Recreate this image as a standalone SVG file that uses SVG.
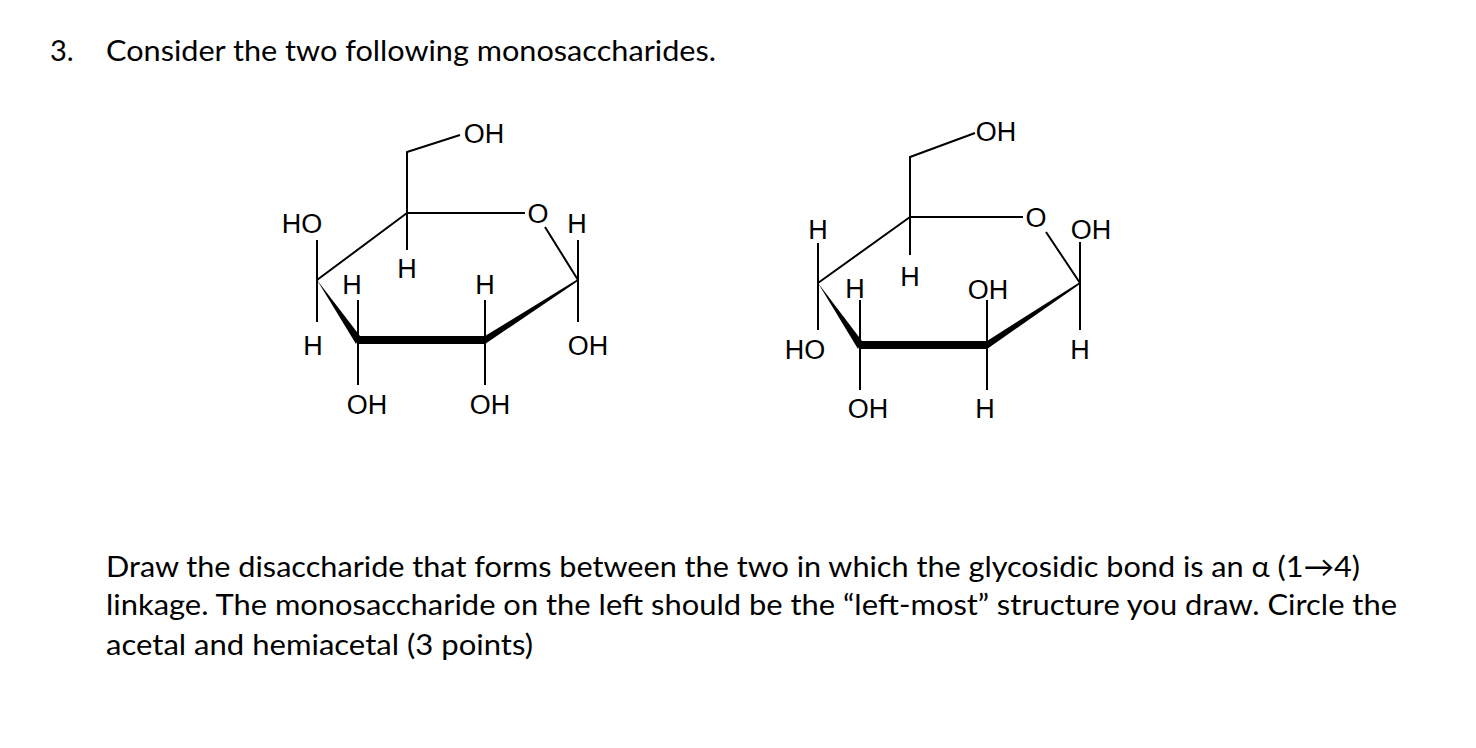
<svg xmlns="http://www.w3.org/2000/svg" width="1476" height="748" viewBox="0 0 1476 748">
<style>
.t{font-family:Lato,"Open Sans",sans-serif;font-size:29px;fill:#000}
.l{font-family:"Liberation Sans",Arial,sans-serif;font-size:27px;fill:#000;text-anchor:middle}
.b{stroke:#000;stroke-width:2;fill:none}
</style>
<rect width="1476" height="748" fill="#fff"/>
<text class="t" x="50" y="61">3.</text>
<text class="t" x="106" y="61" textLength="610" lengthAdjust="spacingAndGlyphs">Consider the two following monosaccharides.</text>
<g id="left">
<path class="b" d="M407,213V152L460,135M407,213H525M545,227L578,280M578,280V240M578,280V322M317,280V240M317,280V322M317,280L407,213M358,340V300M358,340V385M485,340V300M485,340V385M407,213V250"/>
<polygon points="317,280 360,336 356,344"/>
<polygon points="358,336 485,336 485,344 358,344"/>
<polygon points="485,336 578,279 578,281 485,344"/>
<text class="l" x="484" y="143">OH</text>
<text class="l" x="538" y="223">O</text>
<text class="l" x="577" y="233">H</text>
<text class="l" x="588" y="355">OH</text>
<text class="l" x="302" y="233">HO</text>
<text class="l" x="313" y="355">H</text>
<text class="l" x="352" y="294">H</text>
<text class="l" x="367" y="414">OH</text>
<text class="l" x="485" y="294">H</text>
<text class="l" x="490" y="414">OH</text>
<text class="l" x="407" y="278">H</text>
</g>
<g id="right">
<path class="b" d="M910,217V157L975,133M910,217H1023M1046,232L1080,283M1080,283V242M1080,283V330M818,283V243M818,283V330M818,283L910,217M860,345V300M860,345V390M987,345V300M987,345V390M910,217V255"/>
<polygon points="818,283 862,341 858,349"/>
<polygon points="860,341 987,341 987,349 860,349"/>
<polygon points="987,341 1080,282 1080,284 987,349"/>
<text class="l" x="996" y="141">OH</text>
<text class="l" x="1036" y="227">O</text>
<text class="l" x="1091" y="239">OH</text>
<text class="l" x="1080" y="359">H</text>
<text class="l" x="818" y="239">H</text>
<text class="l" x="805" y="359">HO</text>
<text class="l" x="855" y="298">H</text>
<text class="l" x="868" y="418">OH</text>
<text class="l" x="988" y="299">OH</text>
<text class="l" x="985" y="418">H</text>
<text class="l" x="910" y="286">H</text>
</g>
<text class="t" x="106" y="577" textLength="1254" lengthAdjust="spacingAndGlyphs">Draw the disaccharide that forms between the two in which the glycosidic bond is an α (1→4)</text>
<text class="t" x="106" y="615" textLength="1291" lengthAdjust="spacingAndGlyphs">linkage. The monosaccharide on the left should be the “left-most” structure you draw. Circle the</text>
<text class="t" x="106" y="655" textLength="427" lengthAdjust="spacingAndGlyphs">acetal and hemiacetal (3 points)</text>
</svg>
